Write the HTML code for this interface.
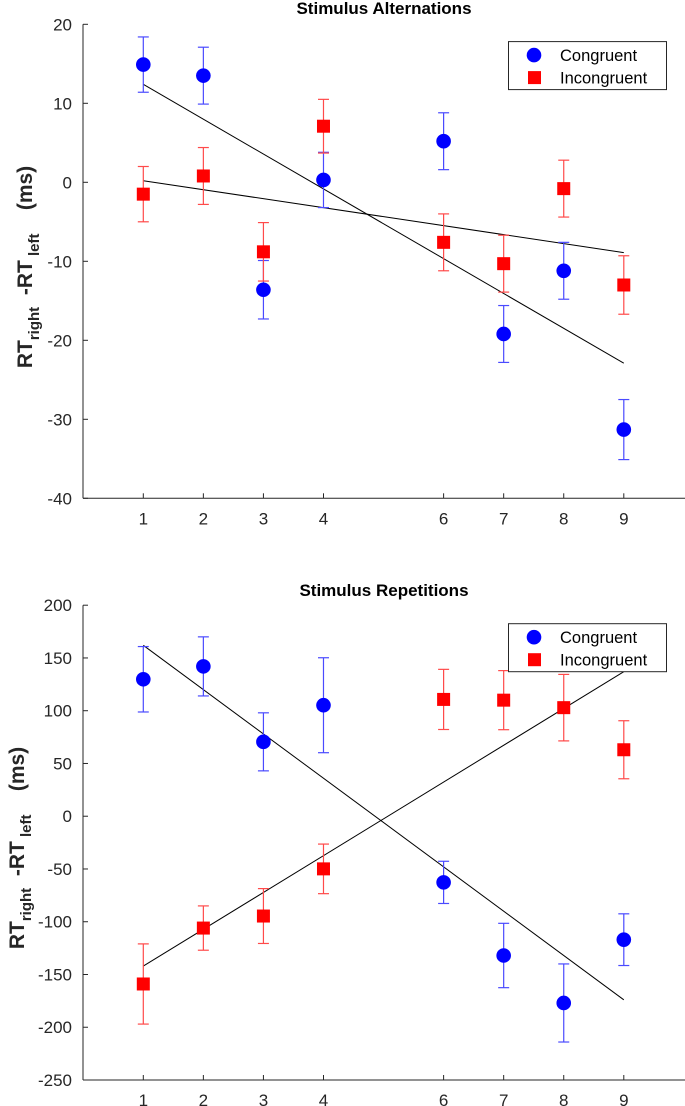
<!DOCTYPE html>
<html><head><meta charset="utf-8"><style>
html,body{margin:0;padding:0;background:#fff;}
svg{display:block;font-family:"Liberation Sans",Arial,sans-serif;}
</style></head><body>
<svg id="chart" width="685" height="1106" viewBox="0 0 685 1106"></svg>
<script>
const conditions = [1,2,3,4,6,7,8,9];
const xTicks = [1,2,3,4,6,7,8,9];
// Top panel: Stimulus Alternations
const altCongruent = [14.9,13.5,-13.6,0.3,5.2,-19.2,-11.2,-31.3];
const altCongruentErr = [3.5,3.6,3.7,3.5,3.6,3.6,3.6,3.8];
const altIncongruent = [-1.5,0.8,-8.8,7.1,-7.6,-10.3,-0.8,-13.0];
const altIncongruentErr = [3.5,3.6,3.7,3.4,3.6,3.6,3.6,3.7];
const altCongruentFit = [12.4,-22.9];
const altIncongruentFit = [0.2,-8.9];
const altYTicks = [20,10,0,-10,-20,-30,-40];
// Bottom panel: Stimulus Repetitions
const repCongruent = [129.8,142,70.5,105.2,-62.7,-132,-177,-117];
const repCongruentErr = [31,28,27.5,45,20,30.5,37,24.5];
const repIncongruent = [-159,-106,-94.6,-49.9,110.7,110,102.9,63];
const repIncongruentErr = [38,21,26,23.5,28.5,28,31.5,27.5];
const repCongruentFit = [162,-174];
const repIncongruentFit = [-142,137];
const repYTicks = [200,150,100,50,0,-50,-100,-150,-200,-250];

const NS='http://www.w3.org/2000/svg';
const svg=document.getElementById('chart');
function mk(tag,attrs,parent){const e=document.createElementNS(NS,tag);for(const k in attrs)e.setAttribute(k,attrs[k]);(parent||svg).appendChild(e);return e;}

function panel(o){
  const g=mk('g',{});
  
  
  const xS=v=>143.3+(v-1)*(623.8-143.3)/8;
  const yS=v=>o.yTop+(o.yMax-v)*(o.yBot-o.yTop)/(o.yMax-o.yMin);
  const t=mk('text',{x:384,y:o.titleY,'text-anchor':'middle','font-size':17,'font-weight':'bold',fill:'#000'},g);
  t.textContent=o.title;
  
  
  const ax=mk('g',{},g);
  
  
  mk('line',{x1:83,y1:o.yTop,x2:83,y2:o.yBot,stroke:'#262626','stroke-width':1},ax);
  mk('line',{x1:83,y1:o.yBot,x2:685,y2:o.yBot,stroke:'#262626','stroke-width':1},ax);
  o.yTicks.forEach(v=>{
    const y=yS(v);
    mk('line',{x1:83,y1:y,x2:88,y2:y,stroke:'#262626'},ax);
    const l=mk('text',{x:72,y:y+6,'text-anchor':'end','font-size':17,fill:'#262626'},ax);
    l.textContent=v;
    
    
  });
  xTicks.forEach(v=>{
    const x=xS(v);
    mk('line',{x1:x,y1:o.yBot,x2:x,y2:o.yBot-5,stroke:'#262626'},ax);
    const l=mk('text',{x:x,y:o.yBot+26,'text-anchor':'middle','font-size':17,fill:'#262626'},ax);
    l.textContent=v;
    
    
  });
  const yl=mk('text',{transform:`translate(${o.labelX},${o.labelY}) rotate(-90)`,'text-anchor':'middle','font-size':21,'font-weight':'bold',fill:'#262626',style:'white-space:pre'},g);
  yl.innerHTML='RT<tspan font-size="15" dy="7">right</tspan><tspan dy="-7">  -RT</tspan><tspan font-size="15" dy="7"> left</tspan><tspan dy="-7">    (ms)</tspan>';
  
  
  [[o.cFit,'congruent-fit-line'],[o.iFit,'incongruent-fit-line']].forEach(([f,n])=>{
    const ln=mk('line',{x1:xS(1),y1:yS(f[0]),x2:xS(9),y2:yS(f[1]),stroke:'#000','stroke-width':1},g);
    
    
  });
  function series(vals,errs,color,ecolor,shape,name){
    const sg=mk('g',{},g);
    
    
    conditions.forEach((c,i)=>{
      const x=xS(c),y=yS(vals[i]),yt=yS(vals[i]+errs[i]),yb=yS(vals[i]-errs[i]);
      mk('line',{x1:x,y1:yt,x2:x,y2:yb,stroke:ecolor,'stroke-width':1.2},sg);
      mk('line',{x1:x-5.5,y1:yt,x2:x+5.5,y2:yt,stroke:ecolor,'stroke-width':1.2},sg);
      mk('line',{x1:x-5.5,y1:yb,x2:x+5.5,y2:yb,stroke:ecolor,'stroke-width':1.2},sg);
      let m;
      if(shape==='c') m=mk('circle',{cx:x,cy:y,r:7.3,fill:color},sg);
      else m=mk('rect',{x:x-6.5,y:y-6.5,width:13,height:13,fill:color},sg);
      
      
    });
  }
  series(o.cVals,o.cErr,'#0000ff','#4a4aff','c','congruent-series');
  series(o.iVals,o.iErr,'#ff0000','#ff4a4a','s','incongruent-series');
  const lg=mk('g',{},g);
  
  
  const ly=o.legY;
  mk('rect',{x:508.5,y:ly,width:158,height:48,fill:'#fff',stroke:'#262626','stroke-width':1},lg);
  mk('circle',{cx:534,cy:ly+13.5,r:7.3,fill:'#0000ff'},lg);
  mk('rect',{x:528,y:ly+29.5,width:13,height:13,fill:'#ff0000'},lg);
  const a=mk('text',{x:560,y:ly+19.5,'font-size':16.5,fill:'#000'},lg);a.textContent='Congruent';
  
  
  const b=mk('text',{x:560,y:ly+42,'font-size':16.5,fill:'#000'},lg);b.textContent='Incongruent';
  
  
}
panel({name:'alternations-panel',title:'Stimulus Alternations',titleY:14,yTop:24.3,yBot:498.3,yMax:20,yMin:-40,yTicks:altYTicks,
  cVals:altCongruent,cErr:altCongruentErr,iVals:altIncongruent,iErr:altIncongruentErr,cFit:altCongruentFit,iFit:altIncongruentFit,
  legY:41.6,labelX:32,labelY:267});
panel({name:'repetitions-panel',title:'Stimulus Repetitions',titleY:596,yTop:605.2,yBot:1080,yMax:200,yMin:-250,yTicks:repYTicks,
  cVals:repCongruent,cErr:repCongruentErr,iVals:repIncongruent,iErr:repIncongruentErr,cFit:repCongruentFit,iFit:repIncongruentFit,
  legY:623.7,labelX:24,labelY:848});
</script>
</body></html>
